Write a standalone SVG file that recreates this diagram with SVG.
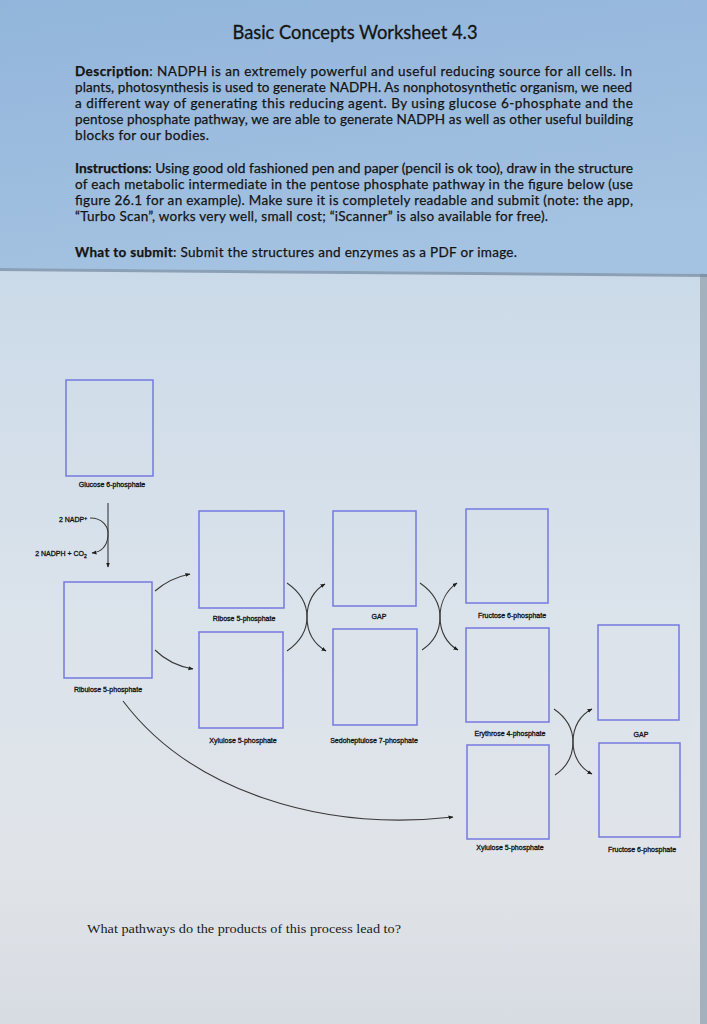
<svg xmlns="http://www.w3.org/2000/svg" width="707" height="1024" viewBox="0 0 707 1024">
<defs>
<linearGradient id="sheetTop" x1="0" y1="0" x2="0.3" y2="1">
<stop offset="0" stop-color="#92b5db"/>
<stop offset="1" stop-color="#a4c2e1"/>
</linearGradient>
<linearGradient id="sheetLow" x1="0" y1="0" x2="0" y2="1">
<stop offset="0" stop-color="#b6cde5"/>
<stop offset="0.3" stop-color="#cddbe9"/>
<stop offset="0.6" stop-color="#dbe3eb"/>
<stop offset="0.85" stop-color="#e0e4e9"/>
<stop offset="1" stop-color="#d7dce2"/>
</linearGradient>
<marker id="ah" viewBox="0 0 10 10" refX="9" refY="5" markerWidth="5" markerHeight="5" orient="auto" markerUnits="userSpaceOnUse">
<path d="M0,1 L10,5 L0,9 Z" fill="#1e1e1e"/>
</marker>
<style>
.hdr{font-family:Lato,"Liberation Sans",sans-serif;font-size:13.5px;fill:#141414;stroke:#141414;stroke-width:0.25}
.b{font-weight:bold}
.box{fill:none;stroke:#7479df;stroke-width:1.5}
.lbl{font-family:"Liberation Sans",Arial,sans-serif;font-size:7px;fill:#111;stroke:#111;stroke-width:0.3;text-anchor:middle}
.con{fill:none;stroke:#3a3a3a;stroke-width:1.1}
</style>
</defs>
<rect x="0" y="0" width="707" height="1024" fill="url(#sheetLow)"/>
<rect x="700" y="268" width="7" height="756" fill="#a3b1bf"/>
<polygon points="0,0 707,0 707,274 0,268" fill="url(#sheetTop)"/>
<polygon points="0,268 707,274 707,277 0,271" fill="#6f879f" opacity="0.7"/>

<g id="header">
<text x="355" y="39" text-anchor="middle" font-family="Lato,'Liberation Sans',sans-serif" font-size="19" fill="#141414" stroke="#141414" stroke-width="0.3" textLength="245" lengthAdjust="spacingAndGlyphs">Basic Concepts Worksheet 4.3</text>
<text class="hdr" x="75" y="76" textLength="557" lengthAdjust="spacing"><tspan class="b">Description</tspan>: NADPH is an extremely powerful and useful reducing source for all cells.  In</text>
<text class="hdr" x="75" y="92" textLength="557" lengthAdjust="spacing">plants, photosynthesis is used to generate NADPH. As nonphotosynthetic organism, we need</text>
<text class="hdr" x="75" y="108" textLength="558" lengthAdjust="spacing">a different way of generating this reducing agent. By using glucose 6-phosphate and the</text>
<text class="hdr" x="75" y="124" textLength="558" lengthAdjust="spacing">pentose phosphate pathway, we are able to generate NADPH as well as other useful building</text>
<text class="hdr" x="75" y="140" textLength="134" lengthAdjust="spacing">blocks for our bodies.</text>
<text class="hdr" x="75" y="173" textLength="558" lengthAdjust="spacingAndGlyphs"><tspan class="b">Instructions</tspan>: Using good old fashioned pen and paper (pencil is ok too), draw in the structure</text>
<text class="hdr" x="75" y="189" textLength="558" lengthAdjust="spacing">of each metabolic intermediate in the pentose phosphate pathway in the figure below (use</text>
<text class="hdr" x="75" y="205" textLength="558" lengthAdjust="spacing">figure 26.1 for an example). Make sure it is completely readable and submit (note: the app,</text>
<text class="hdr" x="75" y="221" textLength="473" lengthAdjust="spacing">“Turbo Scan”, works very well, small cost; “iScanner” is also available for free).</text>
<text class="hdr" x="75" y="257" textLength="442" lengthAdjust="spacing"><tspan class="b">What to submit</tspan>: Submit the structures and enzymes as a PDF or image.</text>
</g>

<g id="glucose6p"><rect class="box" x="66" y="380" width="87" height="96"/><text class="lbl" x="112" y="487">Glucose 6-phosphate</text></g>
<g id="ribulose5p"><rect class="box" x="64" y="582" width="88" height="96"/><text class="lbl" x="108" y="692">Ribulose 5-phosphate</text></g>
<g id="ribose5p"><rect class="box" x="199" y="511" width="85" height="97"/><text class="lbl" x="244" y="621">Ribose 5-phosphate</text></g>
<g id="xylulose5p"><rect class="box" x="199" y="632" width="84" height="96"/><text class="lbl" x="243" y="743">Xylulose 5-phosphate</text></g>
<g id="gap1"><rect class="box" x="333" y="511" width="83" height="95"/><text class="lbl" x="379" y="619">GAP</text></g>
<g id="sedoheptulose7p"><rect class="box" x="333" y="629" width="84" height="96"/><text class="lbl" x="374" y="743">Sedoheptulose 7-phosphate</text></g>
<g id="fructose6p1"><rect class="box" x="466" y="509" width="82" height="94"/><text class="lbl" x="512" y="618">Fructose 6-phosphate</text></g>
<g id="erythrose4p"><rect class="box" x="466" y="628" width="83" height="94"/><text class="lbl" x="510" y="736">Erythrose 4-phosphate</text></g>
<g id="gap2"><rect class="box" x="598" y="625" width="81" height="95"/><text class="lbl" x="641" y="737">GAP</text></g>
<g id="xylulose5p2"><rect class="box" x="467" y="745" width="82" height="94"/><text class="lbl" x="510" y="850">Xylulose 5-phosphate</text></g>
<g id="fructose6p2"><rect class="box" x="599" y="743" width="81" height="94"/><text class="lbl" x="642" y="852">Fructose 6-phosphate</text></g>

<g id="cofactors">
<text class="lbl" x="73" y="522">2 NADP<tspan dy="-2" font-size="5">+</tspan></text>
<text class="lbl" x="61" y="556">2 NADPH + CO<tspan dy="2" font-size="5">2</tspan></text>
</g>

<g id="connectors">
<path class="con" d="M108,503 L108,567" marker-end="url(#ah)"/>
<path class="con" d="M90,518 C103,518 109,527 108,536 C107,546 101,552 92,553" marker-end="url(#ah)"/>
<path class="con" d="M155,591 Q170,578 190,574" marker-end="url(#ah)"/>
<path class="con" d="M155,650 Q170,665 193,669" marker-end="url(#ah)"/>
<path class="con" d="M287,583 C300,592 307,604 307,617 C307,632 314,644 326,651" marker-end="url(#ah)"/>
<path class="con" d="M287,651 C300,642 307,630 307,617 C307,602 314,590 325,584" marker-end="url(#ah)"/>
<path class="con" d="M420,583 C433,592 440,604 440,617 C440,632 447,644 458,650" marker-end="url(#ah)"/>
<path class="con" d="M422,650 C434,642 440,630 440,617 C440,602 447,590 457,583" marker-end="url(#ah)"/>
<path class="con" d="M554,709 C567,718 573,729 573,742 C573,756 580,768 592,774" marker-end="url(#ah)"/>
<path class="con" d="M555,775 C567,767 573,755 573,742 C573,727 580,715 592,709" marker-end="url(#ah)"/>
<path class="con" d="M123,701 C190,790 320,832 453,817" marker-end="url(#ah)"/>
</g>

<text x="87" y="933" font-family="'Liberation Serif','Times New Roman',serif" font-size="13.5" fill="#1b1b1b" textLength="314" lengthAdjust="spacingAndGlyphs">What pathways do the products of this process lead to?</text>
</svg>
